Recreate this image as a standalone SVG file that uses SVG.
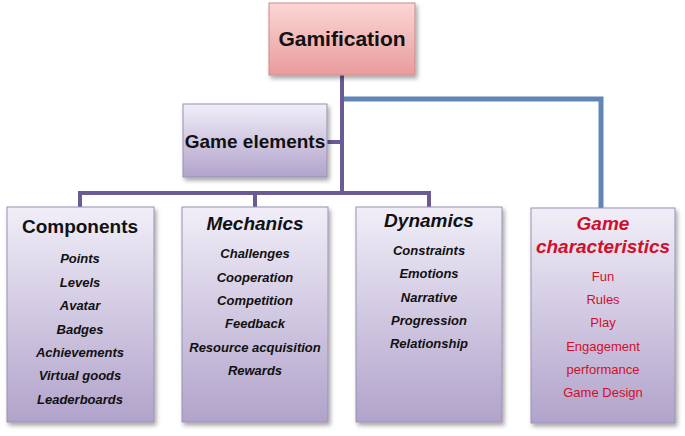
<svg xmlns="http://www.w3.org/2000/svg" width="685" height="436" viewBox="0 0 685 436">
<defs>
<linearGradient id="gPink" x1="0" y1="0" x2="0" y2="1">
<stop offset="0" stop-color="#fbd6d6"/>
<stop offset="1" stop-color="#e99b9b"/>
</linearGradient>
<linearGradient id="gPurple" x1="0" y1="0" x2="0" y2="1">
<stop offset="0" stop-color="#f1eef8"/>
<stop offset="1" stop-color="#b1a3cb"/>
</linearGradient>
<filter id="sh" x="-10%" y="-10%" width="125%" height="125%">
<feDropShadow dx="2" dy="3" stdDeviation="2" flood-color="#000" flood-opacity="0.35"/>
</filter>
</defs>
<style>
.box{stroke:#9a90b2;stroke-width:1;filter:url(#sh)}
.pink{fill:url(#gPink);stroke:#c98c8c}
.purple{fill:url(#gPurple)}
.t{font-family:"Liberation Sans",Arial,sans-serif;font-weight:bold;fill:#111;text-anchor:middle}
.h{font-size:19px}
.hi{font-size:19px;font-style:italic}
.it{font-size:13px;font-style:italic}
.red{fill:#d0102a}
.rit{font-family:"Liberation Sans",Arial,sans-serif;font-size:13px;fill:#d0102a;text-anchor:middle}
.lp{stroke:#6b5b95;stroke-width:4;fill:none}
.lb{stroke:#6185b5;stroke-width:5;fill:none}
</style>
<rect width="685" height="436" fill="#fff"/>
<g id="connectors">
<path class="lb" d="M342 99 H601 V208"/>
<path class="lp" d="M342 75 V193"/>
<path class="lp" d="M327 142 H342"/>
<path class="lp" d="M80 207 V193 H429 V207"/>
<path class="lp" d="M255 193 V207"/>
</g>
<g id="gamification">
<rect class="box pink" x="269" y="3" width="146" height="72"/>
<text class="t" x="342" y="46" font-size="21">Gamification</text>
</g>
<g id="game-elements">
<rect class="box purple" x="183" y="104" width="144" height="73"/>
<text class="t" x="255" y="148" font-size="19">Game elements</text>
</g>
<g id="components">
<rect class="box purple" x="7" y="207" width="147" height="215"/>
<text class="t h" x="80" y="233">Components</text>
<text class="t it" x="80" y="263">Points</text>
<text class="t it" x="80" y="287">Levels</text>
<text class="t it" x="80" y="310">Avatar</text>
<text class="t it" x="80" y="334">Badges</text>
<text class="t it" x="80" y="357">Achievements</text>
<text class="t it" x="80" y="380">Virtual goods</text>
<text class="t it" x="80" y="404">Leaderboards</text>
</g>
<g id="mechanics">
<rect class="box purple" x="182" y="207" width="146" height="215"/>
<text class="t hi" x="255" y="230">Mechanics</text>
<text class="t it" x="255" y="258">Challenges</text>
<text class="t it" x="255" y="282">Cooperation</text>
<text class="t it" x="255" y="305">Competition</text>
<text class="t it" x="255" y="328">Feedback</text>
<text class="t it" x="255" y="352">Resource  acquisition</text>
<text class="t it" x="255" y="375">Rewards</text>
</g>
<g id="dynamics">
<rect class="box purple" x="356" y="207" width="146" height="215"/>
<text class="t hi" x="429" y="227">Dynamics</text>
<text class="t it" x="429" y="255">Constraints</text>
<text class="t it" x="429" y="278">Emotions</text>
<text class="t it" x="429" y="302">Narrative</text>
<text class="t it" x="429" y="325">Progression</text>
<text class="t it" x="429" y="348">Relationship</text>
</g>
<g id="game-characteristics">
<rect class="box purple" x="531" y="208" width="144" height="215"/>
<text class="t hi red" x="603" y="230">Game</text>
<text class="t hi red" x="603" y="253">characteristics</text>
<text class="rit" x="603" y="281">Fun</text>
<text class="rit" x="603" y="304">Rules</text>
<text class="rit" x="603" y="327">Play</text>
<text class="rit" x="603" y="351">Engagement</text>
<text class="rit" x="603" y="374">performance</text>
<text class="rit" x="603" y="397">Game Design</text>
</g>
</svg>
